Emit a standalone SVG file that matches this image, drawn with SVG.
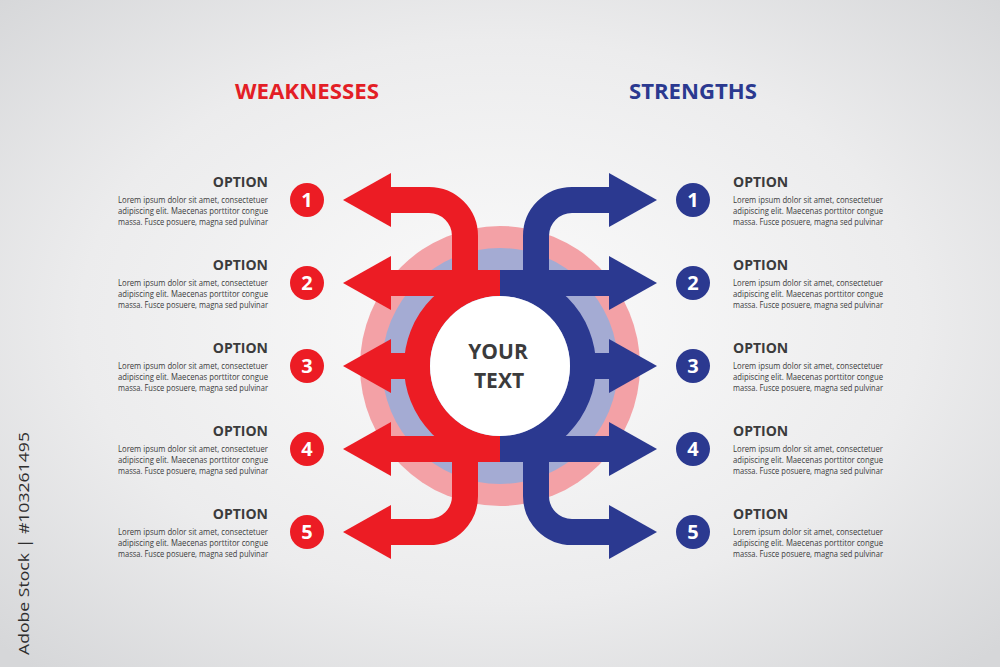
<svg xmlns="http://www.w3.org/2000/svg" xmlns:xlink="http://www.w3.org/1999/xlink" width="1000" height="667" viewBox="0 0 1000 667">
<defs>
<radialGradient id="bg" cx="50%" cy="48%" r="70%">
<stop offset="0" stop-color="#fbfbfb"/>
<stop offset="0.6" stop-color="#ececed"/>
<stop offset="1" stop-color="#d6d7d9"/>
</radialGradient>
<path id="headL" d="M343,0 L391,-27 L391,27 Z"/>
<style>
.red{fill:#ec1c24}
.blue{fill:#2b3990}
.rs{stroke:#ec1c24;fill:none;stroke-width:26}
.bs{stroke:#2b3990;fill:none;stroke-width:26}
.opt{font-family:"Open Sans","Liberation Sans",sans-serif;font-weight:700;font-size:14px;fill:#3b3b3c}
.lor{font-family:"Open Sans","Liberation Sans",sans-serif;font-size:8.6px;fill:#3b3b3c}
.num{font-family:"Open Sans","Liberation Sans",sans-serif;font-weight:700;font-size:20px;fill:#fff;text-anchor:middle}
.ttl{font-family:"Open Sans","Liberation Sans",sans-serif;font-weight:700;font-size:21px;text-anchor:middle}
.ctr{font-family:"Open Sans","Liberation Sans",sans-serif;font-weight:700;font-size:21px;fill:#3b3b3c;text-anchor:middle}
.L{text-anchor:end}
</style>
</defs>
<rect width="1000" height="667" fill="url(#bg)"/>

<g id="center-bg">
<circle cx="500" cy="366" r="140" fill="#f3a1a6"/>
<circle cx="500" cy="366" r="118" fill="#a4abd3"/>
</g>

<g id="connectors">
<g id="weak-arrows">
<path class="rs" d="M500,283 A83,83 0 0 0 500,449"/>
<path class="rs" d="M500,283 H388"/>
<path class="rs" d="M500,449 H388"/>
<path class="rs" d="M425,366 H388"/>
<path class="rs" d="M465,284 V236 A36,36 0 0 0 429,200 H388"/>
<path class="rs" d="M465,448 V496 A36,36 0 0 1 429,532 H388"/>
<use xlink:href="#headL" class="red" transform="translate(0,200)"/>
<use xlink:href="#headL" class="red" transform="translate(0,283)"/>
<use xlink:href="#headL" class="red" transform="translate(0,366)"/>
<use xlink:href="#headL" class="red" transform="translate(0,449)"/>
<use xlink:href="#headL" class="red" transform="translate(0,532)"/>
</g>
<g id="strength-arrows" transform="matrix(-1 0 0 1 1000 0)">
<path class="bs" d="M500,283 A83,83 0 0 0 500,449"/>
<path class="bs" d="M500,283 H388"/>
<path class="bs" d="M500,449 H388"/>
<path class="bs" d="M425,366 H388"/>
<path class="bs" d="M464,284 V236 A36,36 0 0 0 428,200 H388"/>
<path class="bs" d="M464,448 V496 A36,36 0 0 1 428,532 H388"/>
<use xlink:href="#headL" class="blue" transform="translate(0,200)"/>
<use xlink:href="#headL" class="blue" transform="translate(0,283)"/>
<use xlink:href="#headL" class="blue" transform="translate(0,366)"/>
<use xlink:href="#headL" class="blue" transform="translate(0,449)"/>
<use xlink:href="#headL" class="blue" transform="translate(0,532)"/>
</g>
</g>

<g id="center">
<circle cx="500" cy="366" r="70" fill="#ffffff"/>
<text class="ctr" x="498" y="359">YOUR</text>
<text class="ctr" x="499" y="388">TEXT</text>
</g>

<g id="title-weaknesses"><text class="ttl" x="307" y="99" fill="#e31e26" textLength="144" lengthAdjust="spacingAndGlyphs">WEAKNESSES</text></g>
<g id="title-strengths"><text class="ttl" x="693" y="99" fill="#2b3990" textLength="128" lengthAdjust="spacingAndGlyphs">STRENGTHS</text></g>

<g id="w1">
<circle cx="307" cy="200" r="17" class="red"/><text class="num" x="307" y="207">1</text>
<text class="opt L" x="268" y="187">OPTION</text>
<text class="lor L" x="268" y="203" textLength="150" lengthAdjust="spacingAndGlyphs">Lorem ipsum dolor sit amet, consectetuer</text>
<text class="lor L" x="268" y="214" textLength="150" lengthAdjust="spacingAndGlyphs">adipiscing elit. Maecenas porttitor congue</text>
<text class="lor L" x="268" y="225" textLength="150" lengthAdjust="spacingAndGlyphs">massa. Fusce posuere, magna sed pulvinar</text>
</g>
<g id="w2">
<circle cx="307" cy="283" r="17" class="red"/><text class="num" x="307" y="290">2</text>
<text class="opt L" x="268" y="270">OPTION</text>
<text class="lor L" x="268" y="286" textLength="150" lengthAdjust="spacingAndGlyphs">Lorem ipsum dolor sit amet, consectetuer</text>
<text class="lor L" x="268" y="297" textLength="150" lengthAdjust="spacingAndGlyphs">adipiscing elit. Maecenas porttitor congue</text>
<text class="lor L" x="268" y="308" textLength="150" lengthAdjust="spacingAndGlyphs">massa. Fusce posuere, magna sed pulvinar</text>
</g>
<g id="w3">
<circle cx="307" cy="366" r="17" class="red"/><text class="num" x="307" y="373">3</text>
<text class="opt L" x="268" y="353">OPTION</text>
<text class="lor L" x="268" y="369" textLength="150" lengthAdjust="spacingAndGlyphs">Lorem ipsum dolor sit amet, consectetuer</text>
<text class="lor L" x="268" y="380" textLength="150" lengthAdjust="spacingAndGlyphs">adipiscing elit. Maecenas porttitor congue</text>
<text class="lor L" x="268" y="391" textLength="150" lengthAdjust="spacingAndGlyphs">massa. Fusce posuere, magna sed pulvinar</text>
</g>
<g id="w4">
<circle cx="307" cy="449" r="17" class="red"/><text class="num" x="307" y="456">4</text>
<text class="opt L" x="268" y="436">OPTION</text>
<text class="lor L" x="268" y="452" textLength="150" lengthAdjust="spacingAndGlyphs">Lorem ipsum dolor sit amet, consectetuer</text>
<text class="lor L" x="268" y="463" textLength="150" lengthAdjust="spacingAndGlyphs">adipiscing elit. Maecenas porttitor congue</text>
<text class="lor L" x="268" y="474" textLength="150" lengthAdjust="spacingAndGlyphs">massa. Fusce posuere, magna sed pulvinar</text>
</g>
<g id="w5">
<circle cx="307" cy="532" r="17" class="red"/><text class="num" x="307" y="539">5</text>
<text class="opt L" x="268" y="519">OPTION</text>
<text class="lor L" x="268" y="535" textLength="150" lengthAdjust="spacingAndGlyphs">Lorem ipsum dolor sit amet, consectetuer</text>
<text class="lor L" x="268" y="546" textLength="150" lengthAdjust="spacingAndGlyphs">adipiscing elit. Maecenas porttitor congue</text>
<text class="lor L" x="268" y="557" textLength="150" lengthAdjust="spacingAndGlyphs">massa. Fusce posuere, magna sed pulvinar</text>
</g>

<g id="s1">
<circle cx="693" cy="200" r="17" class="blue"/><text class="num" x="693" y="207">1</text>
<text class="opt" x="733" y="187">OPTION</text>
<text class="lor" x="733" y="203" textLength="150" lengthAdjust="spacingAndGlyphs">Lorem ipsum dolor sit amet, consectetuer</text>
<text class="lor" x="733" y="214" textLength="150" lengthAdjust="spacingAndGlyphs">adipiscing elit. Maecenas porttitor congue</text>
<text class="lor" x="733" y="225" textLength="150" lengthAdjust="spacingAndGlyphs">massa. Fusce posuere, magna sed pulvinar</text>
</g>
<g id="s2">
<circle cx="693" cy="283" r="17" class="blue"/><text class="num" x="693" y="290">2</text>
<text class="opt" x="733" y="270">OPTION</text>
<text class="lor" x="733" y="286" textLength="150" lengthAdjust="spacingAndGlyphs">Lorem ipsum dolor sit amet, consectetuer</text>
<text class="lor" x="733" y="297" textLength="150" lengthAdjust="spacingAndGlyphs">adipiscing elit. Maecenas porttitor congue</text>
<text class="lor" x="733" y="308" textLength="150" lengthAdjust="spacingAndGlyphs">massa. Fusce posuere, magna sed pulvinar</text>
</g>
<g id="s3">
<circle cx="693" cy="366" r="17" class="blue"/><text class="num" x="693" y="373">3</text>
<text class="opt" x="733" y="353">OPTION</text>
<text class="lor" x="733" y="369" textLength="150" lengthAdjust="spacingAndGlyphs">Lorem ipsum dolor sit amet, consectetuer</text>
<text class="lor" x="733" y="380" textLength="150" lengthAdjust="spacingAndGlyphs">adipiscing elit. Maecenas porttitor congue</text>
<text class="lor" x="733" y="391" textLength="150" lengthAdjust="spacingAndGlyphs">massa. Fusce posuere, magna sed pulvinar</text>
</g>
<g id="s4">
<circle cx="693" cy="449" r="17" class="blue"/><text class="num" x="693" y="456">4</text>
<text class="opt" x="733" y="436">OPTION</text>
<text class="lor" x="733" y="452" textLength="150" lengthAdjust="spacingAndGlyphs">Lorem ipsum dolor sit amet, consectetuer</text>
<text class="lor" x="733" y="463" textLength="150" lengthAdjust="spacingAndGlyphs">adipiscing elit. Maecenas porttitor congue</text>
<text class="lor" x="733" y="474" textLength="150" lengthAdjust="spacingAndGlyphs">massa. Fusce posuere, magna sed pulvinar</text>
</g>
<g id="s5">
<circle cx="693" cy="532" r="17" class="blue"/><text class="num" x="693" y="539">5</text>
<text class="opt" x="733" y="519">OPTION</text>
<text class="lor" x="733" y="535" textLength="150" lengthAdjust="spacingAndGlyphs">Lorem ipsum dolor sit amet, consectetuer</text>
<text class="lor" x="733" y="546" textLength="150" lengthAdjust="spacingAndGlyphs">adipiscing elit. Maecenas porttitor congue</text>
<text class="lor" x="733" y="557" textLength="150" lengthAdjust="spacingAndGlyphs">massa. Fusce posuere, magna sed pulvinar</text>
</g>

<g id="watermark">
<text x="0" y="0" transform="translate(29,655) rotate(-90)" font-family="'Open Sans','Liberation Sans',sans-serif" font-size="15" fill="#2e2e2e" textLength="223" lengthAdjust="spacingAndGlyphs">Adobe Stock | #103261495</text>
</g>
</svg>
